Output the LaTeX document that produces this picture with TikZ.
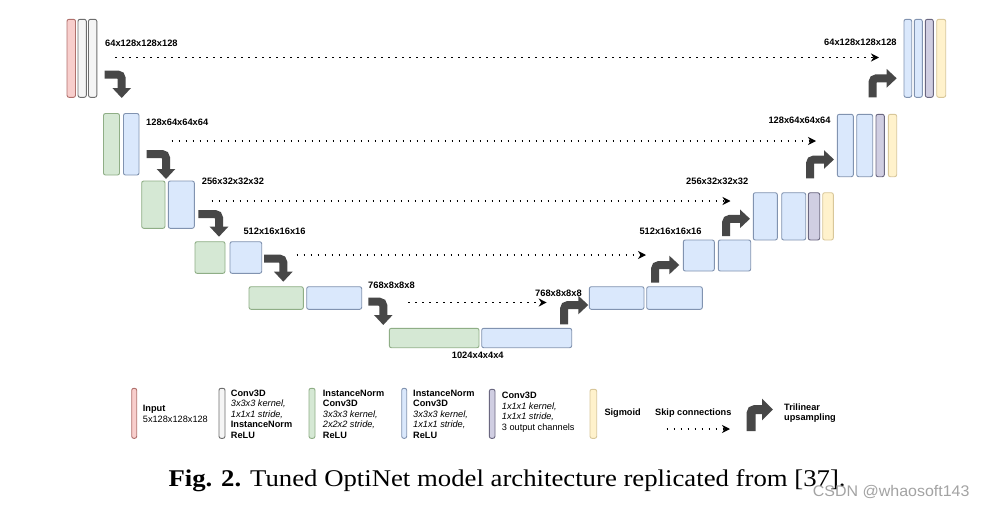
\documentclass[tikz,border=0pt]{standalone}
\usepackage{fontspec}
\setmainfont{Liberation Serif}
\setsansfont{Liberation Sans}
\usetikzlibrary{arrows.meta}
\definecolor{redfill}{HTML}{F8CECC}\definecolor{redline}{HTML}{B0706C}
\definecolor{grayfill}{HTML}{F5F5F5}\definecolor{grayline}{HTML}{6E6E6E}
\definecolor{greenfill}{HTML}{D5E8D4}\definecolor{greenline}{HTML}{8FAE86}
\definecolor{bluefill}{HTML}{DAE8FC}\definecolor{blueline}{HTML}{8193B0}
\definecolor{purpfill}{HTML}{D0CEE2}\definecolor{purpline}{HTML}{6A6780}
\definecolor{yellfill}{HTML}{FFF2CC}\definecolor{yellline}{HTML}{D8C79A}
\definecolor{arrowgray}{HTML}{474747}
\definecolor{wmgray}{HTML}{A3A3A3}
\newcommand\ubox[6]{%
  \pgfmathsetmacro\uw{#5-#3}\pgfmathsetmacro\uh{#6-#4}%
  \node[#2, minimum width=\uw pt, minimum height=\uh pt] (#1) at ({(#3+#5)/2},{(#4+#6)/2}) {};}
\tikzset{
  blk/.style={rectangle, rounded corners=2pt, inner sep=0pt, outer sep=0pt, line width=0.9pt},
  bred/.style={blk, fill=redfill, draw=redline},
  bgray/.style={blk, fill=grayfill, draw=grayline},
  bgreen/.style={blk, fill=greenfill, draw=greenline},
  bblue/.style={blk, fill=bluefill, draw=blueline},
  bpurp/.style={blk, fill=purpfill, draw=purpline},
  byell/.style={blk, fill=yellfill, draw=yellline},
  dimlabel/.style={font=\sffamily\bfseries\fontsize{9.3}{11}\selectfont, anchor=west, inner sep=0pt},
  skiparrow/.style={line width=1.7pt, dash pattern=on 1.7pt off 5.3pt, -{Stealth[length=8pt,width=8pt,inset=2.5pt]}},
  ups/.style={draw=arrowgray, line width=8pt, rounded corners=4pt, -{Triangle[width=18pt,length=10pt]}},
  leg/.style={font=\sffamily\fontsize{9.2}{10.5}\selectfont, anchor=west, align=left, inner sep=0pt},
}
\begin{document}
\begin{tikzpicture}[x=1pt,y=-1pt]
\useasboundingbox (0,0) rectangle (986,514);
\fill[white] (0,0) rectangle (986,514);
% encoder
\ubox{i0a}{bred}{67}{19.3}{75.5}{97.3}
\ubox{i0b}{bgray}{78}{19.3}{86.3}{97.3}
\ubox{i0c}{bgray}{88.5}{19.3}{96.8}{97.3}
\ubox{e1a}{bgreen}{103.5}{113.5}{119.5}{175}
\ubox{e1b}{bblue}{123.5}{113.5}{139}{175}
\ubox{e2a}{bgreen}{141.7}{181}{165}{228.3}
\ubox{e2b}{bblue}{168.3}{181}{194.3}{228.3}
\ubox{e3a}{bgreen}{195}{241.7}{225}{273.3}
\ubox{e3b}{bblue}{230}{241.7}{261.7}{273.3}
\ubox{e4a}{bgreen}{249}{286.7}{303.3}{309.3}
\ubox{e4b}{bblue}{306.7}{286.7}{361.7}{309.3}
\ubox{bna}{bgreen}{389.3}{328.3}{479}{347.7}
\ubox{bnb}{bblue}{481.7}{328.3}{571.7}{347.7}
% decoder
\ubox{d4a}{bblue}{589.3}{286.7}{644}{309.3}
\ubox{d4b}{bblue}{646.7}{286.7}{702.3}{309.3}
\ubox{d3a}{bblue}{683.3}{240}{714.3}{271}
\ubox{d3b}{bblue}{718.3}{240}{750.7}{271}
\ubox{d2a}{bblue}{753.3}{192.7}{777.3}{240}
\ubox{d2b}{bblue}{781.7}{192.7}{805.7}{240}
\ubox{d2c}{bpurp}{808.3}{192.7}{819.7}{240}
\ubox{d2d}{byell}{822.7}{192.7}{833.3}{240}
\ubox{d1a}{bblue}{837.3}{114.3}{853.3}{176.7}
\ubox{d1b}{bblue}{856.7}{114.3}{872.7}{176.7}
\ubox{d1c}{bpurp}{876}{114.3}{884.3}{176.7}
\ubox{d1d}{byell}{888.3}{114.3}{896.7}{176.7}
\ubox{d0a}{bblue}{904}{19.3}{911.7}{97.3}
\ubox{d0b}{bblue}{914.3}{19.3}{922.3}{97.3}
\ubox{d0c}{bpurp}{925.3}{19.3}{933.3}{97.3}
\ubox{d0d}{byell}{936.7}{19.3}{945.7}{97.3}
% dimension labels
\node[dimlabel] (l0) at (105,43) {64x128x128x128};
\node[dimlabel] (l1) at (146,122.7) {128x64x64x64};
\node[dimlabel] (l2) at (201.7,181) {256x32x32x32};
\node[dimlabel] (l3) at (243.3,231.7) {512x16x16x16};
\node[dimlabel] (l4) at (368,285) {768x8x8x8};
\node[dimlabel] (lb) at (451.7,355.7) {1024x4x4x4};
\node[dimlabel] (r4) at (535,293.3) {768x8x8x8};
\node[dimlabel] (r3) at (639.3,231.7) {512x16x16x16};
\node[dimlabel] (r2) at (686,181.7) {256x32x32x32};
\node[dimlabel] (r1) at (768.3,120.7) {128x64x64x64};
\node[dimlabel] (r0) at (824,42.3) {64x128x128x128};
% skip connections
\coordinate (k0s) at (115,57.5);   \coordinate (k0e) at (879,57.5);
\coordinate (k1s) at (171.7,141);  \coordinate (k1e) at (816,141);
\coordinate (k2s) at (211.7,201);  \coordinate (k2e) at (730.5,201);
\coordinate (k3s) at (296.7,255);  \coordinate (k3e) at (646,255);
\coordinate (k4s) at (408,302.5);  \coordinate (k4e) at (546.7,302.5);
\draw[skiparrow] (k0s) -- (k0e);
\draw[skiparrow] (k1s) -- (k1e);
\draw[skiparrow] (k2s) -- (k2e);
\draw[skiparrow] (k3s) -- (k3e);
\draw[skiparrow] (k4s) -- (k4e);
% down arrows
\coordinate (a0s) at (104.5,74.5); \coordinate (a0c) at (121.7,74.5); \coordinate (a0e) at (121.7,98);
\coordinate (a1s) at (146.7,154);  \coordinate (a1c) at (166,154);    \coordinate (a1e) at (166,179);
\coordinate (a2s) at (198.3,214);  \coordinate (a2c) at (219,214);    \coordinate (a2e) at (219,236.7);
\coordinate (a3s) at (264,258.5);  \coordinate (a3c) at (283.3,258.5); \coordinate (a3e) at (283.3,281.7);
\coordinate (a4s) at (368.3,301.7); \coordinate (a4c) at (383.3,301.7); \coordinate (a4e) at (383.3,325);
\draw[ups] (a0s) -- (a0c) -- (a0e);
\draw[ups] (a1s) -- (a1c) -- (a1e);
\draw[ups] (a2s) -- (a2c) -- (a2e);
\draw[ups] (a3s) -- (a3c) -- (a3e);
\draw[ups] (a4s) -- (a4c) -- (a4e);
% up arrows
\coordinate (u4s) at (564,324.3); \coordinate (u4c) at (564,305);   \coordinate (u4e) at (588.3,305);
\coordinate (u3s) at (655,282.7); \coordinate (u3c) at (655,265);   \coordinate (u3e) at (679.3,265);
\coordinate (u2s) at (726,236);   \coordinate (u2c) at (726,218.8); \coordinate (u2e) at (750,218.8);
\coordinate (u1s) at (810,178.3); \coordinate (u1c) at (810,159.5); \coordinate (u1e) at (834,159.5);
\coordinate (u0s) at (872.5,97.3); \coordinate (u0c) at (872.5,78.3); \coordinate (u0e) at (896.7,78.3);
\draw[ups] (u4s) -- (u4c) -- (u4e);
\draw[ups] (u3s) -- (u3c) -- (u3e);
\draw[ups] (u2s) -- (u2c) -- (u2e);
\draw[ups] (u1s) -- (u1c) -- (u1e);
\draw[ups] (u0s) -- (u0c) -- (u0e);
% legend
\ubox{lgr}{bred}{131.7}{388.3}{136.7}{438.3}
\node[leg] (tgr) at (142.7,414) {\textbf{Input}\\5x128x128x128};
\ubox{lgg}{bgray}{219}{388.3}{225}{438.3}
\node[leg] (tgg) at (230.7,414) {\textbf{Conv3D}\\\textit{3x3x3 kernel,}\\\textit{1x1x1 stride,}\\\textbf{InstanceNorm}\\\textbf{ReLU}};
\ubox{lgn}{bgreen}{309}{388.3}{315}{438.3}
\node[leg] (tgn) at (322.7,414) {\textbf{InstanceNorm}\\\textbf{Conv3D}\\\textit{3x3x3 kernel,}\\\textit{2x2x2 stride,}\\\textbf{ReLU}};
\ubox{lgb}{bblue}{401.7}{388.3}{406.7}{438.3}
\node[leg] (tgb) at (413,414) {\textbf{InstanceNorm}\\\textbf{Conv3D}\\\textit{3x3x3 kernel,}\\\textit{1x1x1 stride,}\\\textbf{ReLU}};
\ubox{lgp}{bpurp}{489.3}{389.3}{495}{438.3}
\node[leg] (tgp) at (501.7,412) {\textbf{Conv3D}\\\textit{1x1x1 kernel,}\\\textit{1x1x1 stride,}\\3 output channels};
\ubox{lgy}{byell}{590}{389.3}{596.7}{438.3}
\node[leg] (tgy) at (604.3,413.3) {\textbf{Sigmoid}};
\node[leg] (tsk) at (655,413.5) {\textbf{Skip connections}};
\coordinate (lks) at (666.7,429); \coordinate (lke) at (730,429);
\draw[skiparrow] (lks) -- (lke);
\coordinate (lus) at (751,431); \coordinate (luc) at (751,409.5); \coordinate (lue) at (773,409.5);
\draw[ups, line width=9pt, -{Triangle[width=21pt,length=11pt]}] (lus) -- (luc) -- (lue);
\node[leg] (ttu) at (784,413) {\textbf{Trilinear}\\\textbf{upsampling}};
% caption
\node[anchor=base west, inner sep=0pt] (cap) at (168.3,486.7) {\resizebox{677pt}{\height}{\fontsize{24}{28}\selectfont\textbf{Fig. 2.} Tuned OptiNet model architecture replicated from [37].}};
\node[anchor=base west, inner sep=0pt, text=wmgray] (wm) at (812.7,496) {\resizebox{156.6pt}{\height}{\sffamily\fontsize{15.4}{18}\selectfont CSDN @whaosoft143}};
\end{tikzpicture}
\end{document}
